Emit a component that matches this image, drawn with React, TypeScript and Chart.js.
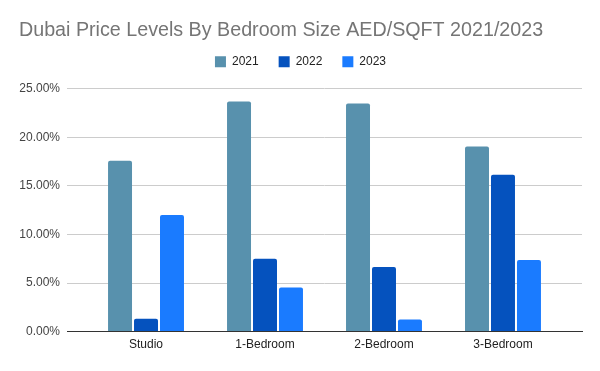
import React, { useEffect, useRef } from "react";
import { Chart, registerables } from "chart.js";

Chart.register(...registerables);

const categories = ["Studio", "1-Bedroom", "2-Bedroom", "3-Bedroom"];
const values2021 = [17.6, 23.7, 23.5, 19.05];
const values2022 = [1.33, 7.5, 6.65, 16.15];
const values2023 = [12.0, 4.55, 1.25, 7.38];
const seriesNames = ["2021", "2022", "2023"];
const seriesColors = ["#5891AD", "#0552BE", "#1A7BFF"];
const yTicks = [0, 5, 10, 15, 20, 25];

const FONT = "'Liberation Sans', Arial, sans-serif";

const legendGap = {
  id: "legendGap",
  beforeInit(chart: any) {
    const legend = chart.legend;
    if (!legend) return;
    const orig = legend.fit;
    legend.fit = function () {
      orig.call(legend);
      this.height += 11;
    };
  },
};

export default function App() {
  const ref = useRef<HTMLCanvasElement | null>(null);
  useEffect(() => {
    document.body.style.margin = "0";
    const ctx = ref.current!;
    const all = [values2021, values2022, values2023];
    const chart = new Chart(ctx, {
      type: "bar",
      data: {
        datasets: all.map((vals, i) => ({
          label: seriesNames[i],
          data: vals.map((v, j) => ({ x: j, y: v })),
          backgroundColor: seriesColors[i],
          borderRadius: { topLeft: 2, topRight: 2, bottomLeft: 0, bottomRight: 0 },
          borderSkipped: "bottom",
          categoryPercentage: 0.655,
          barPercentage: 0.923,
        })),
      },
      plugins: [legendGap],
      options: {
        responsive: false,
        animation: false,
        layout: { padding: { left: 19, right: 18, top: 0, bottom: 13 } },
        plugins: {
          title: {
            display: true,
            text: "Dubai Price Levels By Bedroom Size AED/SQFT 2021/2023",
            align: "start",
            color: "#757575",
            font: { family: FONT, size: 19.7, weight: "normal", lineHeight: 0.5 },
            padding: { top: 26, bottom: 0 },
          },
          legend: {
            display: true,
            position: "top",
            labels: {
              boxWidth: 11,
              boxHeight: 11,
              padding: 20,
              color: "#222222",
              font: { family: FONT, size: 12 },
            },
          },
          tooltip: { enabled: false },
        },
        scales: {
          x: {
            type: "linear",
            min: -0.664,
            max: 3.664,
            offset: false,
            grid: { display: false, drawTicks: false },
            border: { display: true, color: "#333333", width: 1 },
            afterBuildTicks: (scale: any) => {
              scale.ticks = categories.map((_, i) => ({ value: i }));
            },
            ticks: {
              autoSkip: false,
              maxRotation: 0,
              padding: 6,
              color: "#222222",
              font: { family: FONT, size: 12 },
              callback: (v: any) => categories[Math.round(Number(v))] ?? "",
            },
          },
          y: {
            min: 0,
            max: 25,
            afterBuildTicks: (scale: any) => {
              scale.ticks = yTicks.map((v) => ({ value: v }));
            },
            afterFit: (scale: any) => {
              scale.width = 48;
            },
            grid: { color: "#CCCCCC", drawTicks: false },
            border: { display: false },
            ticks: {
              padding: 7,
              color: "#444444",
              font: { family: FONT, size: 12 },
              callback: (v: any) => Number(v).toFixed(2) + "%",
            },
          },
        },
      },
    } as any);
    return () => chart.destroy();
  }, []);
  return (
    <div style={{ position: "absolute", left: 0, top: 0, width: 600, height: 371, background: "#fff" }}>
      <canvas ref={ref} width={600} height={371} style={{ width: 600, height: 371 }} />
    </div>
  );
}
